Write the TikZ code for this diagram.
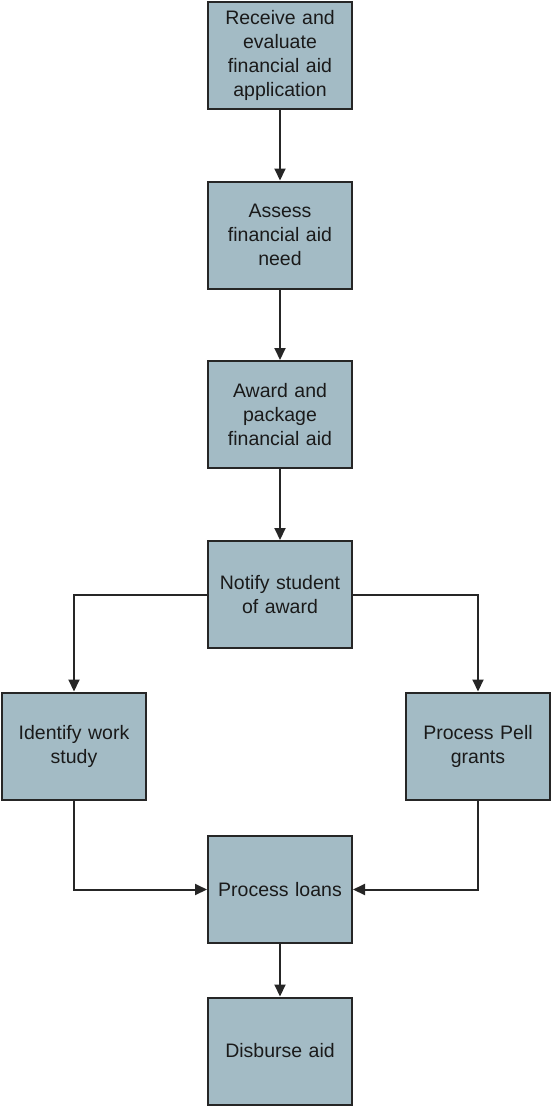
\documentclass[tikz,border=0pt]{standalone}
\usepackage{fontspec}
\setmainfont{Liberation Sans}
\usetikzlibrary{arrows.meta}
\definecolor{boxfill}{HTML}{A3BBC5}
\definecolor{linec}{HTML}{262626}
\definecolor{textc}{HTML}{1A1A1A}
\begin{document}
\begin{tikzpicture}[x=1pt,y=-1pt,
  stepbox/.style={draw=linec,line width=2pt,fill=boxfill,minimum width=144pt,minimum height=107pt,
    inner sep=0pt,align=center,text width=136pt,text=textc,
    font=\fontsize{19.5}{24}\selectfont},
  conn/.style={draw=linec,line width=2pt,-{Triangle[length=12pt,width=11pt]}}]
\useasboundingbox (0,0) rectangle (552,1108);
\node[stepbox] (a) at (280,55.5) {Receive and\\evaluate\\financial aid\\application};
\node[stepbox] (b) at (280,235) {Assess\\financial aid\\need};
\node[stepbox] (c) at (280,414.5) {Award and\\package\\financial aid};
\node[stepbox] (d) at (280,594.5) {Notify student\\of award};
\node[stepbox] (e) at (74,746) {Identify work\\study};
\node[stepbox] (f) at (478,746) {Process Pell\\grants};
\node[stepbox] (g) at (280,889.5) {Process loans};
\node[stepbox] (h) at (280,1051) {Disburse aid};
\draw[conn] (a) -- (b);
\draw[conn] (b) -- (c);
\draw[conn] (c) -- (d);
\draw[conn] (d.west) -| (e.north);
\draw[conn] (d.east) -| (f.north);
\draw[conn] (e.south) |- (g.west);
\draw[conn] (f.south) |- (g.east);
\draw[conn] (g) -- (h);
\end{tikzpicture}
\end{document}
